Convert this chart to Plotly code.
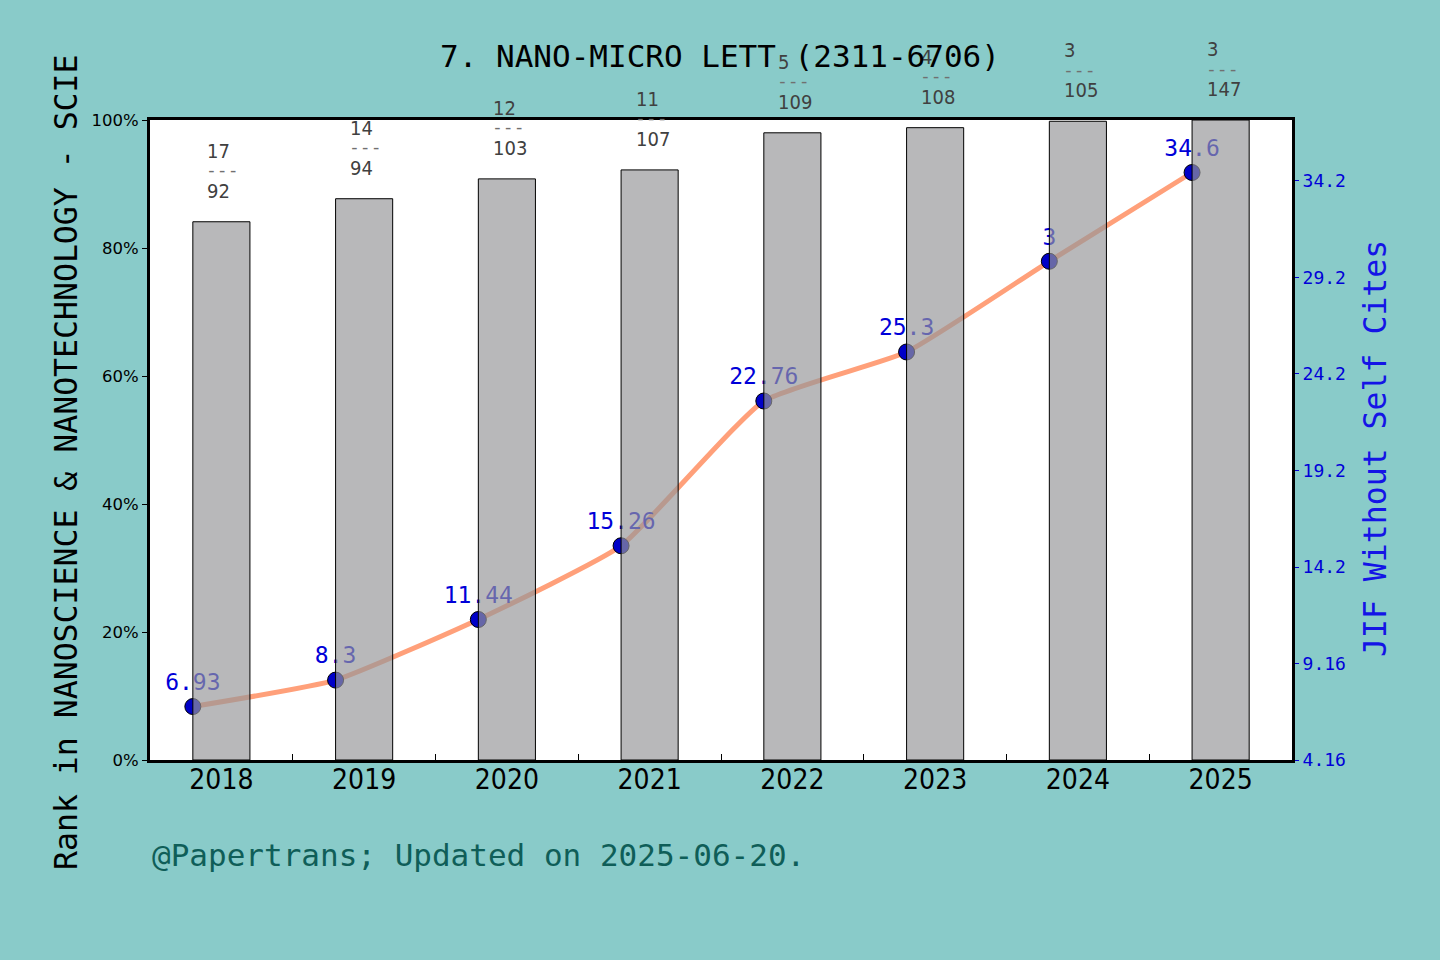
import plotly.graph_objects as go
import numpy as np

# ---- data ----
years = ["2018", "2019", "2020", "2021", "2022", "2023", "2024", "2025"]
rank_pct = [84.1, 87.7, 90.8, 92.2, 98.0, 98.8, 99.8, 100.0]
rank_num = ["17", "14", "12", "11", "5", "4", "3", "3"]
rank_den = ["92", "94", "103", "107", "109", "108", "105", "147"]
jif = [6.93, 8.3, 11.44, 15.26, 22.76, 25.3, 30.0, 34.6]
jif_labels = ["6.93", "8.3", "11.44", "15.26", "22.76", "25.3", "3", "34.6"]
pct_ticks = [0, 20, 40, 60, 80, 100]
pct_ticktext = ["0%", "20%", "40%", "60%", "80%", "100%"]
jif_ticks = [4.16, 9.16, 14.16, 19.16, 24.16, 29.16, 34.16]
jif_ticktext = ["4.16", "9.16", "14.2", "19.2", "24.2", "29.2", "34.2"]

title = "7. NANO-MICRO LETT (2311-6706)"
left_title = "Rank in NANOSCIENCE & NANOTECHNOLOGY - SCIE"
right_title = "JIF Without Self Cites"
footer = "@Papertrans; Updated on 2025-06-20."

MONO = "'DejaVu Sans Mono', monospace"
NARROW = "'Liberation Sans Narrow', 'DejaVu Sans Condensed', 'Arial Narrow', 'Liberation Sans', sans-serif"
SANS = "'DejaVu Sans', sans-serif"
BG = "#89cbc9"
BLUE = "#0000d8"

bar_w = 0.4
pos = np.arange(len(years))

fig = go.Figure()

# line (drawn below the bars)
fig.add_trace(go.Scatter(
    x=pos - bar_w / 2, y=jif, xaxis="x", yaxis="y",
    mode="lines+markers+text",
    line=dict(color="#ffa07a", width=5, shape="spline", smoothing=0.45),
    marker=dict(size=16, color="#0000c8", line=dict(color="black", width=1)),
    text=jif_labels, textposition="top center",
    textfont=dict(family=MONO, size=23, color=BLUE),
    cliponaxis=False, showlegend=False,
))

# bars (overlay subplot so they sit above the line)
fig.add_trace(go.Bar(
    x=pos, y=rank_pct, xaxis="x", yaxis="y2", width=bar_w,
    marker=dict(color="rgba(150,151,154,0.68)", line=dict(color="black", width=1)),
    showlegend=False,
))

ann = []
for i in range(len(years)):
    ann.append(dict(x=pos[i], y=rank_pct[i], xref="x", yref="y2", text=rank_num[i],
                    showarrow=False, xanchor="left", yanchor="middle", xshift=-16, yshift=71,
                    font=dict(family=NARROW, size=20, color="#404040")))
    ann.append(dict(x=pos[i], y=rank_pct[i], xref="x", yref="y2", text="---",
                    showarrow=False, xanchor="left", yanchor="middle", xshift=-17, yshift=52,
                    font=dict(family=MONO, size=18, color="#707070")))
    ann.append(dict(x=pos[i], y=rank_pct[i], xref="x", yref="y2", text=rank_den[i],
                    showarrow=False, xanchor="left", yanchor="middle", xshift=-16, yshift=31,
                    font=dict(family=NARROW, size=20, color="#404040")))

ann += [
    dict(x=0.499, y=1.1, xref="paper", yref="paper", text=title, showarrow=False,
         xanchor="center", yanchor="middle", font=dict(family=MONO, size=31, color="black")),
    dict(x=-0.0736, y=0.4656, xref="paper", yref="paper", text=left_title, showarrow=False,
         textangle=-90, xanchor="center", yanchor="middle",
         font=dict(family=MONO, size=31.5, color="black")),
    dict(x=1.0727, y=0.486, xref="paper", yref="paper", text=right_title, showarrow=False,
         textangle=-90, xanchor="center", yanchor="middle",
         font=dict(family=MONO, size=31.5, color="#1414e6")),
    dict(x=0, y=-0.148, xref="paper", yref="paper", text=footer, showarrow=False,
         xanchor="left", yanchor="middle", font=dict(family=MONO, size=31, color="#0f5e58")),
]

fig.update_layout(
    width=1440, height=960,
    margin=dict(l=150, r=148, t=120, b=200),
    paper_bgcolor=BG, plot_bgcolor="white",
    xaxis=dict(range=[-0.5, len(years) - 0.5], tickmode="array", tickvals=pos, ticktext=years,
               ticks="", showgrid=False, zeroline=False, ticklabelstandoff=-8,
               showline=True, linecolor="black", linewidth=3, mirror=True,
               tickfont=dict(family=NARROW, size=28, color="black"),
               minor=dict(tickmode="array", tickvals=list(pos[:-1] + 0.5), ticks="inside",
                          ticklen=6, tickcolor="black", tickwidth=1, showgrid=False)),
    yaxis=dict(side="right", range=[4.16, 37.32], tickmode="array",
               tickvals=jif_ticks, ticktext=jif_ticktext,
               ticks="outside", ticklen=4, tickcolor=BLUE, tickwidth=1,
               tickfont=dict(family=MONO, size=18, color=BLUE),
               showgrid=False, zeroline=False,
               showline=True, linecolor="black", linewidth=3),
    yaxis2=dict(side="left", overlaying="y", range=[0, 100], tickmode="array",
                tickvals=pct_ticks, ticktext=pct_ticktext,
                ticks="outside", ticklen=5, tickcolor="black", tickwidth=1,
                tickfont=dict(family=SANS, size=16.5, color="black"),
                showgrid=False, zeroline=False,
                showline=True, linecolor="black", linewidth=3),
    annotations=ann,
)

fig.write_html("out.html")
